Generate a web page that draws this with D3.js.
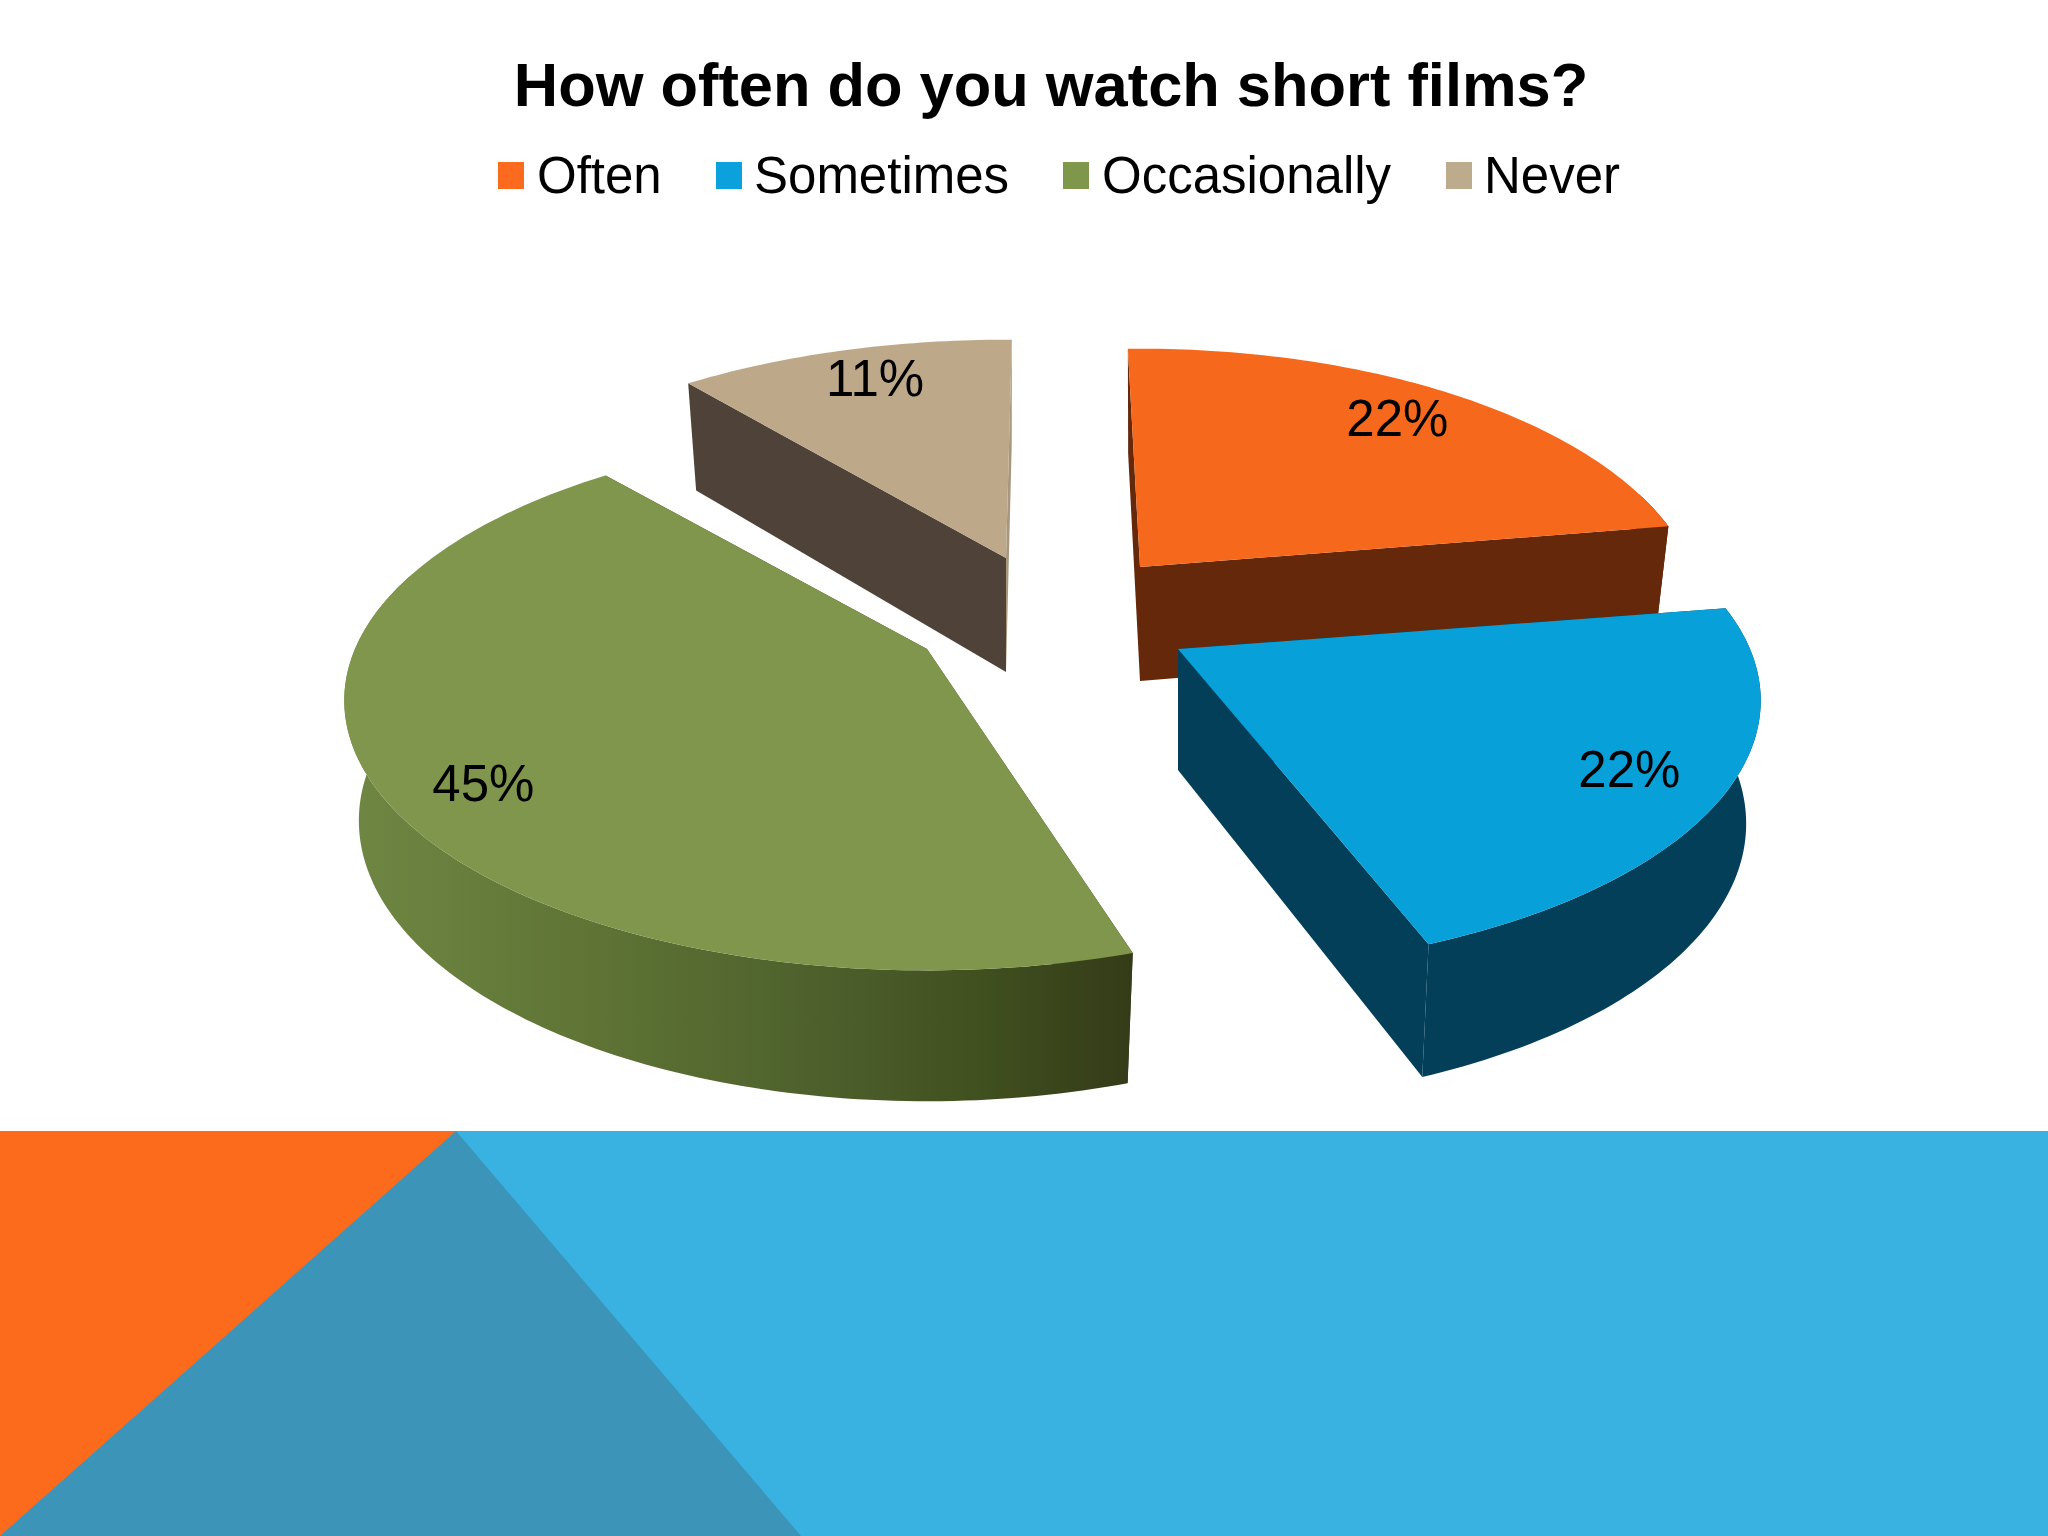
<!DOCTYPE html>
<html>
<head>
<meta charset="utf-8">
<style>
html,body{margin:0;padding:0;background:#fff;}
svg{display:block;}
text{font-family:"Liberation Sans",Arial,sans-serif;fill:#000;}
</style>
<title>How often do you watch short films?</title>
</head>
<body>
<svg id="chart" width="2048" height="1536"></svg>
<script src="https://d3js.org/d3.v7.min.js"></script>
<script>
var titleText = "How often do you watch short films?";
var categories = ["Often", "Sometimes", "Occasionally", "Never"];
var values = [22, 22, 45, 11];
var topColors = ["#f6681c", "#08a0d9", "#7f964c", "#bda98a"];
var wallColors = ["#65280a", "#033f58", "url(#greenWall)", "#4f4339"];
var endFaceColors = ["#65280a", "#033f58", "#343a18", "#a8977c"];
var swatchColors = ["#fb6a1d", "#0ba1dc", "#7f974b", "#bdab8d"];

// layout of the exploded slices, in page pixels
var apex = [[1140, 567], [1178, 649], [927, 649], [1006, 558]];
var depths = [114, 121, 118, 114];
var radiusX = [0.965, 1, 1, 1];
var startNudge = [-3, 0, 3, -1.5];
var endNudge = [0, -1, -2, -0.8];
var labelRadius = [0.79, 0.84, 0.82, 0.84];
var labelShiftY = [-10, 0, 22, 0];
var legendSwatchX = [498, 716, 1063, 1446];
var legendTextX = [537, 754, 1102, 1484];
var drawOrder = [3, 0, 2, 1];

var R = 572, B = 260, k = 0.191;
var rad = Math.PI / 180;

var svg = d3.select("#chart");
var defs = svg.append("defs");

var grad = defs.append("linearGradient").attr("id", "greenWall")
    .attr("gradientUnits", "userSpaceOnUse")
    .attr("x1", 348).attr("x2", 1137).attr("y1", 0).attr("y2", 0);
grad.selectAll("stop")
    .data([[0, "#6f8743"], [0.3, "#5f7435"], [0.6, "#4d602c"], [0.8, "#40501f"], [1, "#343a18"]])
    .enter().append("stop")
    .attr("offset", function(d){ return d[0]; })
    .attr("stop-color", function(d){ return d[1]; });

// bottom band
var band = svg.append("g");
band.append("rect").attr("x", 0).attr("y", 1131).attr("width", 2048).attr("height", 405).attr("fill", "#39b2e1");
band.append("path").attr("d", "M0,1131L456,1131L801,1536L0,1536Z").attr("fill", "#3c94b8");
band.append("path").attr("d", "M0,1131L456,1131L0,1536Z").attr("fill", "#fc6b1c");

svg.append("text").text(titleText)
    .attr("x", 1051).attr("y", 106)
    .attr("text-anchor", "middle")
    .attr("font-size", 61.4).attr("font-weight", "bold");

// legend
var legend = svg.append("g").selectAll("g").data(categories).enter().append("g");
legend.append("rect")
    .attr("x", function(d, i){ return legendSwatchX[i]; })
    .attr("y", 162).attr("width", 26).attr("height", 27)
    .attr("fill", function(d, i){ return swatchColors[i]; });
legend.append("text").text(function(d){ return d; })
    .attr("x", function(d, i){ return legendTextX[i]; })
    .attr("y", 193).attr("font-size", 51);

var pie = d3.pie().sort(null).startAngle(1.5 * rad).endAngle((360 + 1.5) * rad);
var arcs = pie(values);

// ground plane perspective: far side shrinks, near side grows
function project(i, a, r, low){
    var X = Math.sin(a) * r, Y = -Math.cos(a) * r;
    var w = 1 - k * Y;
    var sx = radiusX[i] * (low ? 0.975 : 1), sy = low ? 1.04 : 1;
    return [apex[i][0] + R * sx * X / w,
            apex[i][1] + (low ? depths[i] : 0) + B * sy * Y / w];
}

function arcAngles(a0, a1){
    var n = Math.ceil((a1 - a0) / (1 * rad));
    return d3.range(n + 1).map(function(j){ return a0 + (a1 - a0) * j / n; });
}

var line = d3.line();

var slices = svg.append("g").selectAll("g").data(drawOrder).enter().append("g");

slices.each(function(i){
    var g = d3.select(this), d = arcs[i];
    var a0 = d.startAngle + startNudge[i] * rad, a1 = d.endAngle + endNudge[i] * rad;
    var centerTop = project(i, 0, 0, false), centerLow = project(i, 0, 0, true);

    // the two cut faces go behind the outer wall
    [[a0, wallColors[i]], [a1, endFaceColors[i]]].forEach(function(f){
        g.append("path")
            .attr("d", line([centerTop, project(i, f[0], 1, false), project(i, f[0], 1, true), centerLow]) + "Z")
            .attr("fill", f[1]);
    });

    var angles = arcAngles(a0, a1);

    // outer wall, only the part turned towards the viewer
    var front = angles.filter(function(a){ return Math.cos(a) < 0.3; });
    if (front.length > 1) {
        var topFront = front.map(function(a){ return project(i, a, 1, false); });
        var lowFront = front.map(function(a){ return project(i, a, 1, true); });
        g.append("path")
            .attr("d", line(topFront.concat(lowFront.reverse())) + "Z")
            .attr("fill", wallColors[i]);
    }

    // top face
    g.append("path")
        .attr("d", line([centerTop].concat(angles.map(function(a){ return project(i, a, 1, false); }))) + "Z")
        .attr("fill", topColors[i]);
});

// percentage labels sit on the top faces, drawn last
svg.append("g").selectAll("text").data(arcs).enter().append("text")
    .text(function(d){ return d.value + "%"; })
    .attr("text-anchor", "middle")
    .attr("font-size", 51)
    .attr("x", function(d, i){ return project(i, (d.startAngle + d.endAngle) / 2, labelRadius[i], false)[0]; })
    .attr("y", function(d, i){ return project(i, (d.startAngle + d.endAngle) / 2, labelRadius[i], false)[1] + 18 + labelShiftY[i]; });
</script>
</body>
</html>
